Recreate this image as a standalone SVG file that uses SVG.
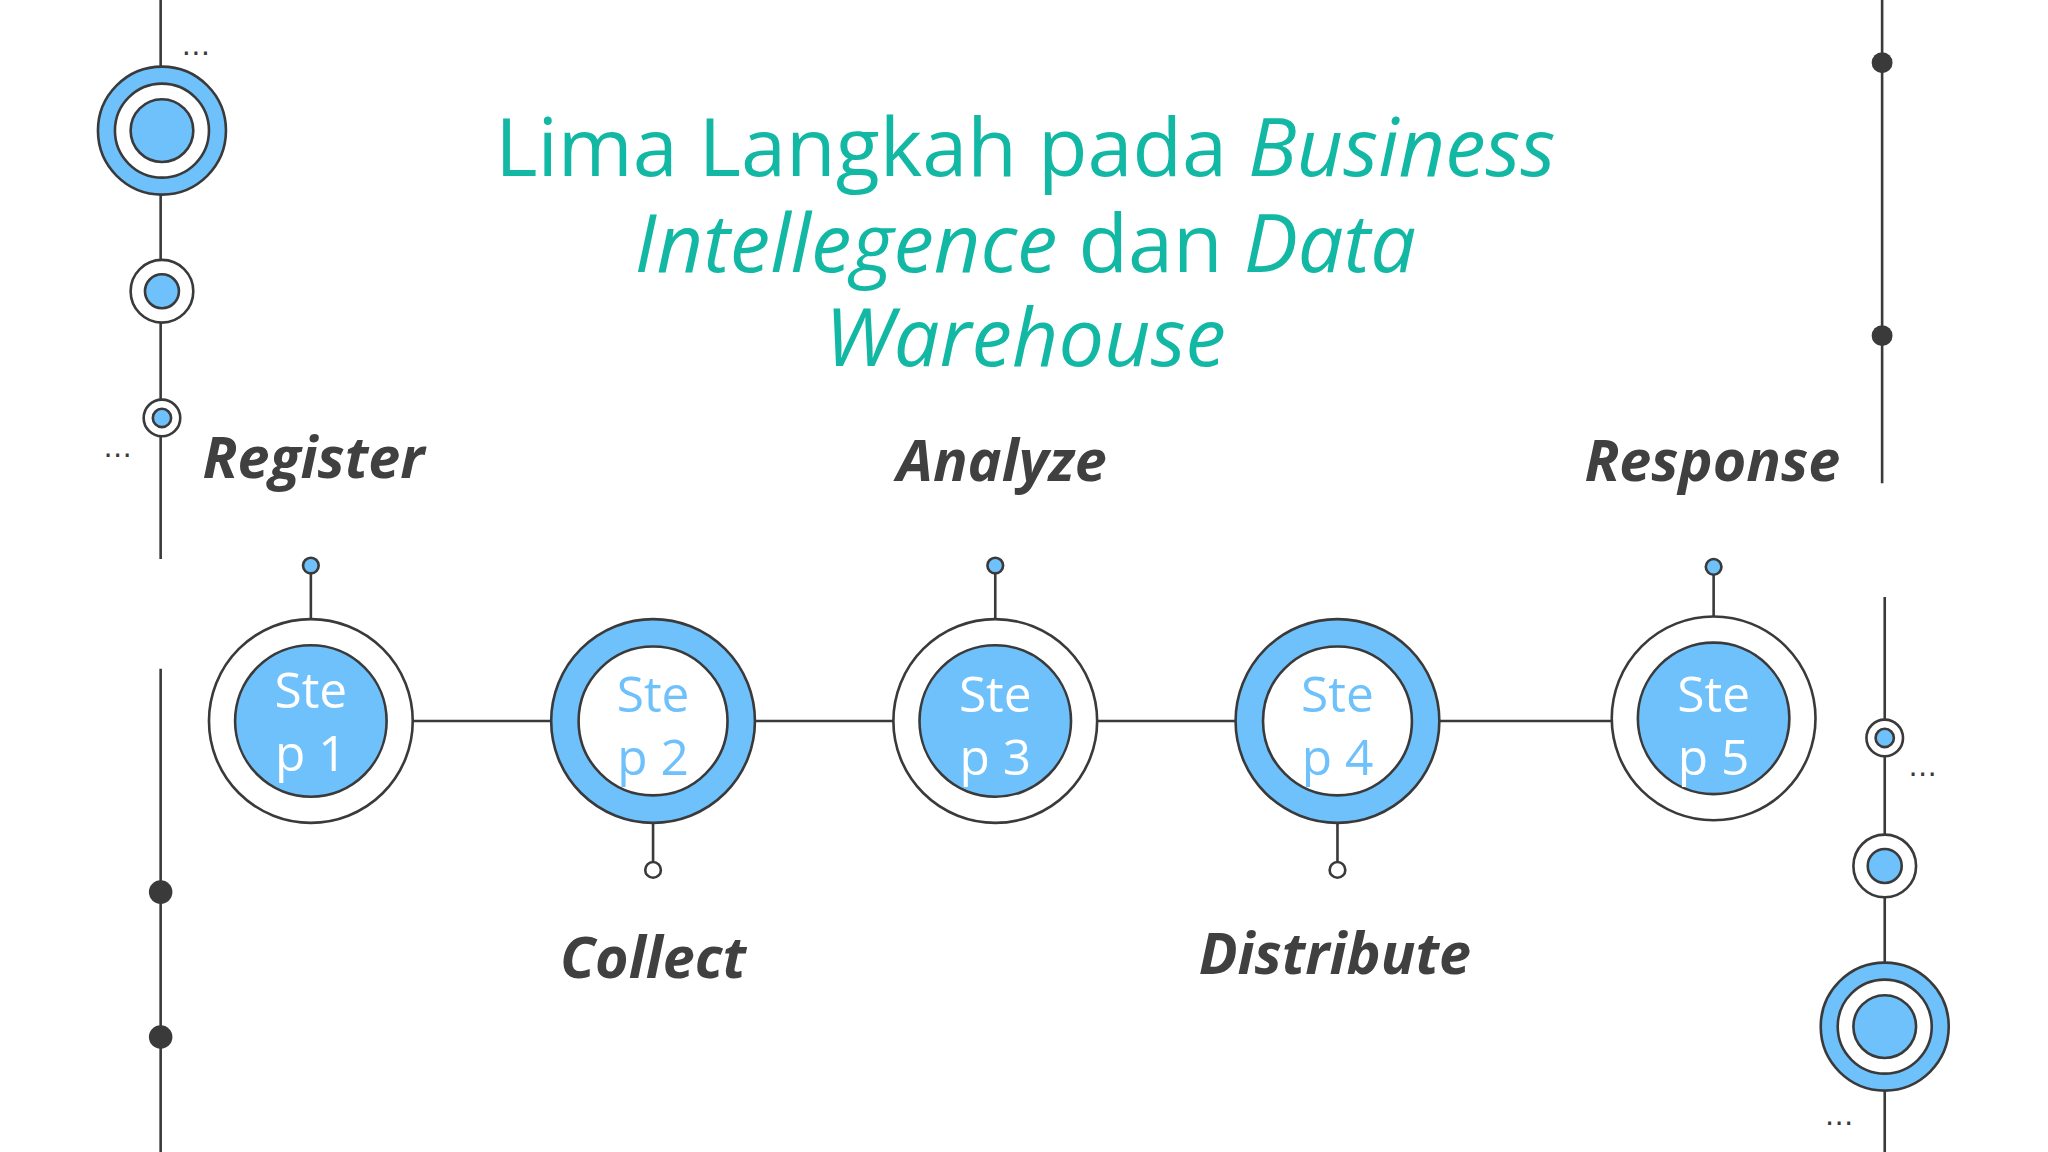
<svg xmlns="http://www.w3.org/2000/svg" width="2048" height="1152" viewBox="0 0 2048 1152">
<style>
.ln{stroke:#3a3a3a;stroke-width:2;fill:none}
.b{fill:#6fc1fb;stroke:#3a3a3a;stroke-width:2}
.w{fill:#fff;stroke:#3a3a3a;stroke-width:2}
.dot{fill:#3a3a3a}
.title{font-family:"Open Sans","Noto Sans",sans-serif;font-size:62px;fill:#12b8a4;text-anchor:middle}
.lab{font-family:"Open Sans","Noto Sans",sans-serif;font-size:44px;font-weight:bold;font-style:italic;fill:#404040;text-anchor:middle}
.st{font-family:"Open Sans","Noto Sans",sans-serif;font-size:38px;text-anchor:middle}
.dd{font-family:"DejaVu Sans",sans-serif;font-size:22px;fill:#3a3a3a;text-anchor:middle}
</style>
<rect width="2048" height="1152" fill="#fff"/>
<g transform="scale(1.30612)">
<g id="decor">
<line class="ln" x1="123" y1="0" x2="123" y2="428"/>
<circle class="b" cx="124" cy="100" r="49"/><circle class="w" cx="124" cy="100" r="36"/><circle class="b" cx="124" cy="100" r="24"/>
<circle class="w" cx="124" cy="223" r="24"/><circle class="b" cx="124" cy="223" r="13"/>
<circle class="w" cx="124" cy="320" r="14"/><circle class="b" cx="124" cy="320" r="7"/>
<text class="dd" x="150" y="42">…</text><text class="dd" x="90" y="350">…</text>
<line class="ln" x1="123" y1="512" x2="123" y2="882"/>
<circle class="dot" cx="123" cy="683" r="9"/><circle class="dot" cx="123" cy="794" r="9"/>
<line class="ln" x1="1441" y1="0" x2="1441" y2="370"/>
<circle class="dot" cx="1441" cy="48" r="8"/><circle class="dot" cx="1441" cy="257" r="8"/>
<line class="ln" x1="1443" y1="457" x2="1443" y2="882"/>
<circle class="w" cx="1443" cy="565" r="14"/><circle class="b" cx="1443" cy="565" r="7"/>
<circle class="w" cx="1443" cy="663" r="24"/><circle class="b" cx="1443" cy="663" r="13"/>
<circle class="b" cx="1443" cy="786" r="49"/><circle class="w" cx="1443" cy="786" r="36"/><circle class="b" cx="1443" cy="786" r="24"/>
<text class="dd" x="1472" y="594">…</text><text class="dd" x="1408" y="861">…</text>
</g>
<g id="title">
<text class="title" x="785" y="135">Lima Langkah pada <tspan font-style="italic">Business</tspan></text>
<text class="title" x="785" y="208"><tspan font-style="italic">Intellegence</tspan> dan <tspan font-style="italic">Data</tspan></text>
<text class="title" x="785" y="280" font-style="italic">Warehouse</text>
</g>
<g id="connectors">
<line class="ln" x1="238" y1="552" x2="1312" y2="552"/>
<line class="ln" x1="238" y1="433" x2="238" y2="474"/>
<line class="ln" x1="762" y1="433" x2="762" y2="474"/>
<line class="ln" x1="1312" y1="433" x2="1312" y2="472"/>
<line class="ln" x1="500" y1="630" x2="500" y2="666"/>
<line class="ln" x1="1024" y1="630" x2="1024" y2="666"/>
</g>
<g id="step1"><circle class="w" cx="238" cy="552" r="78"/><circle class="b" cx="238" cy="552" r="58"/>
<circle class="b" cx="238" cy="433" r="6"/>
<text class="st" fill="#fff" x="238" y="542">Ste</text><text class="st" fill="#fff" x="238" y="590">p 1</text>
<text class="lab" x="240" y="366">Register</text></g>
<g id="step2"><circle class="b" cx="500" cy="552" r="78"/><circle class="w" cx="500" cy="552" r="57"/>
<circle class="w" cx="500" cy="666" r="6"/>
<text class="st" fill="#6fc1fb" x="500" y="545">Ste</text><text class="st" fill="#6fc1fb" x="500" y="593">p 2</text>
<text class="lab" x="500" y="749">Collect</text></g>
<g id="step3"><circle class="w" cx="762" cy="552" r="78"/><circle class="b" cx="762" cy="552" r="58"/>
<circle class="b" cx="762" cy="433" r="6"/>
<text class="st" fill="#fff" x="762" y="545">Ste</text><text class="st" fill="#fff" x="762" y="593">p 3</text>
<text class="lab" x="767" y="368">Analyze</text></g>
<g id="step4"><circle class="b" cx="1024" cy="552" r="78"/><circle class="w" cx="1024" cy="552" r="57"/>
<circle class="w" cx="1024" cy="666" r="6"/>
<text class="st" fill="#6fc1fb" x="1024" y="545">Ste</text><text class="st" fill="#6fc1fb" x="1024" y="593">p 4</text>
<text class="lab" x="1022" y="746">Distribute</text></g>
<g id="step5"><circle class="w" cx="1312" cy="550" r="78"/><circle class="b" cx="1312" cy="550" r="58"/>
<circle class="b" cx="1312" cy="434" r="6"/>
<text class="st" fill="#fff" x="1312" y="545">Ste</text><text class="st" fill="#fff" x="1312" y="593">p 5</text>
<text class="lab" x="1311" y="368">Response</text></g>
</g>
</svg>
